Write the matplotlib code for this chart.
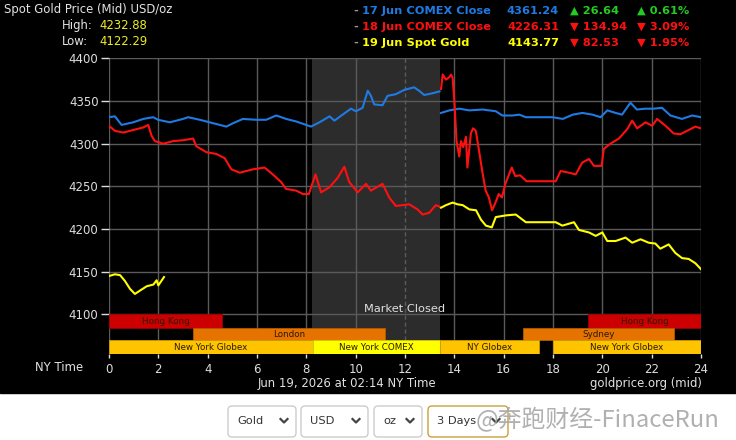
import numpy as np
import matplotlib
matplotlib.use('Agg')
import matplotlib.pyplot as plt
from matplotlib.patches import Rectangle, FancyBboxPatch

# ---- data (NY time in hours, price in USD/oz) ----
# 17 Jun COMEX close day (blue): before and after the 13:30 close
blue_am_hours = [0, 0.24, 0.51, 0.98, 1.39, 1.79, 1.99, 2.47, 3.0, 3.21, 3.68, 4.08, 4.49, 4.76, 5.03,
                 5.43, 5.97, 6.37, 6.78, 7.18, 7.59, 7.99, 8.19, 8.53, 8.94, 9.14, 9.47, 9.81, 10.01,
                 10.28, 10.49, 10.62, 10.75, 11.09, 11.29, 11.63, 11.97, 12.37, 12.57, 12.78, 13.11, 13.4]
blue_am = [4331, 4332, 4322, 4325, 4329, 4331, 4328, 4325, 4329, 4331, 4328, 4325, 4322, 4320, 4324,
           4329, 4328, 4328, 4333, 4329, 4326, 4322, 4320, 4325, 4332, 4327, 4334, 4341, 4338,
           4342, 4362, 4356, 4346, 4345, 4356, 4358, 4363, 4366, 4362, 4357, 4359, 4361.24]
blue_pm_hours = [13.46, 13.8, 14.2, 14.61, 15.15, 15.68, 15.95, 16.36, 16.63, 16.9, 17.44, 17.98, 18.4,
                 18.8, 19.19, 19.6, 19.93, 20.2, 20.54, 20.8, 21.14, 21.4, 21.75, 22.08, 22.42, 22.76,
                 23.23, 23.64, 24.0]
blue_pm = [4336, 4339, 4341, 4339, 4340, 4338, 4333, 4333, 4334, 4331, 4331, 4331, 4329,
           4334, 4336, 4334, 4331, 4339, 4336, 4334, 4348, 4340, 4341, 4341, 4342, 4333,
           4329, 4333, 4331]

# 18 Jun COMEX close day (red)
red_am_hours = [0, 0.24, 0.58, 0.98, 1.39, 1.59, 1.73, 1.86, 2.2, 2.6, 3.0, 3.41, 3.54, 3.95, 4.35,
                4.69, 4.96, 5.3, 5.84, 6.31, 6.64, 6.98, 7.18, 7.59, 7.86, 8.1, 8.37, 8.6, 8.94, 9.27,
                9.54, 9.74, 10.08, 10.42, 10.62, 11.09, 11.36, 11.63, 12.17, 12.51, 12.71, 12.98,
                13.25, 13.4]
red_am = [4321, 4315, 4313, 4316, 4319, 4322, 4309, 4303, 4300, 4303, 4304, 4306, 4297, 4290, 4288,
          4283, 4270, 4266, 4270, 4272, 4264, 4255, 4247, 4245, 4241, 4241, 4264, 4243, 4249, 4260,
          4273, 4255, 4243, 4253, 4245, 4253, 4237, 4227, 4229, 4223, 4217, 4219,
          4228, 4226.31]
red_pm_hours = [13.46, 13.53, 13.66, 13.8, 13.87, 13.93, 14.0, 14.09, 14.2, 14.27, 14.36, 14.47, 14.53,
                14.67, 14.76, 14.87, 15.0, 15.13, 15.27, 15.4, 15.53, 15.67, 15.8, 15.93, 16.07, 16.27,
                16.33, 16.47, 16.67, 16.93, 17.44, 18.11, 18.31, 18.65, 18.92, 19.19, 19.46, 19.66,
                19.97, 20.06, 20.33, 20.67, 21.01, 21.21, 21.41, 21.75, 22.02, 22.22, 22.56, 22.89,
                23.16, 23.5, 23.77, 24.0]
red_pm = [4364, 4381, 4375, 4378, 4381, 4377, 4350, 4303, 4285, 4303, 4296, 4308, 4272,
          4312, 4318, 4315, 4292, 4268, 4245, 4237, 4222, 4231, 4241, 4237, 4253, 4268,
          4272, 4262, 4263, 4256, 4256, 4256, 4268, 4266, 4264, 4278, 4282, 4274,
          4274, 4294, 4300, 4306, 4317, 4327, 4318, 4325, 4321, 4329, 4321, 4312,
          4311, 4316, 4320, 4318]

# 19 Jun spot gold (yellow)
yellow_am_hours = [0, 0.24, 0.45, 0.65, 0.85, 1.05, 1.26, 1.53, 1.8, 1.93, 2.0, 2.23]
yellow_am = [4145, 4147, 4146, 4139, 4130, 4124, 4128, 4133, 4135, 4140, 4134, 4143.77]
yellow_pm_hours = [13.46, 13.66, 13.93, 14.13, 14.34, 14.61, 14.88, 15.08, 15.28, 15.52, 15.68, 16.09,
                   16.49, 16.9, 17.44, 18.11, 18.38, 18.85, 19.05, 19.46, 19.73, 20.0, 20.2, 20.54,
                   20.94, 21.21, 21.55, 21.88, 22.15, 22.35, 22.69, 22.96, 23.23, 23.5, 23.77, 24.0]
yellow_pm = [4225, 4228, 4231, 4229, 4228, 4223, 4222, 4211, 4204, 4202, 4214, 4216,
             4217, 4208, 4208, 4208, 4204, 4208, 4199, 4196, 4192, 4196, 4186, 4186,
             4190, 4184, 4188, 4184, 4183, 4177, 4182, 4172, 4166, 4165, 4160, 4153]

# trading sessions strip
session_names = ["Hong Kong", "Hong Kong", "London", "Sydney",
                 "New York Globex", "New York COMEX", "NY Globex", "New York Globex"]
session_start = [0, 19.42, 3.4, 16.8, 0, 8.27, 13.42, 18.0]
session_end = [4.6, 24, 11.2, 22.9, 8.27, 13.42, 17.42, 24]
session_row = [0, 0, 1, 1, 2, 2, 2, 2]

closed_start, closed_end = 8.22, 13.42

legend_labels = ["17 Jun COMEX Close", "18 Jun COMEX Close", "19 Jun Spot Gold"]
legend_prices = ["4361.24", "4226.31", "4143.77"]
legend_change = ["\u25b2 26.64", "\u25bc 134.94", "\u25bc 82.53"]
legend_pct = ["\u25b2 0.61%", "\u25bc 3.09%", "\u25bc 1.95%"]
day_high, day_low = "4232.88", "4122.29"

BLUE = '#1f7be3'
RED = '#ff1010'
YELLOW = '#ffff00'
GREEN = '#22cc22'

W, H = 736, 440
fig = plt.figure(figsize=(W / 100, H / 100), dpi=100, facecolor='white')

# pixel canvas for all the surrounding bits
bg = fig.add_axes([0, 0, 1, 1])
bg.set_xlim(0, W)
bg.set_ylim(H, 0)
bg.axis('off')
bg.add_patch(Rectangle((0, 0), W, 393.5, color='black', zorder=0))

txt = '#e2e2e2'
bg.text(4, 9.5, "Spot Gold Price (Mid) USD/oz", color=txt, fontsize=8.4, va='center')
bg.text(62, 25.5, "High:", color=txt, fontsize=8.4, va='center')
bg.text(99, 25.5, day_high, color='#eeee22', fontsize=8.4, va='center')
bg.text(62, 41.5, "Low:", color=txt, fontsize=8.4, va='center')
bg.text(99, 41.5, day_low, color='#eeee22', fontsize=8.4, va='center')

row_y = [11, 26.7, 42.5]
row_col = [BLUE, RED, YELLOW]
chg_col = [GREEN, RED, RED]
for i in range(3):
    bg.text(353, row_y[i], "-", color='#999999', fontsize=8.2, fontweight='bold', va='center')
    bg.text(362, row_y[i], legend_labels[i], color=row_col[i], fontsize=8.2, fontweight='bold', va='center')
    bg.text(559, row_y[i], legend_prices[i], color=row_col[i], fontsize=8.2, fontweight='bold',
            va='center', ha='right')
    bg.text(570, row_y[i], legend_change[i], color=chg_col[i], fontsize=8.2, fontweight='bold', va='center')
    bg.text(637, row_y[i], legend_pct[i], color=chg_col[i], fontsize=8.2, fontweight='bold', va='center')

bg.text(83, 367.5, "NY Time", color=txt, fontsize=8.4, va='center', ha='right')
bg.text(347, 383.5, "Jun 19, 2026 at 02:14 NY Time", color=txt, fontsize=8.4, va='center', ha='center')
bg.text(702, 383.5, "goldprice.org (mid)", color=txt, fontsize=8.4, va='center', ha='right')

# dropdown boxes under the chart
boxes = [("Gold", 228, 296), ("USD", 301, 368), ("oz", 374, 422), ("3 Days", 428, 508)]
for name, x0, x1 in boxes:
    edge = '#c9a13b' if name == "3 Days" else '#cccccc'
    bg.add_patch(FancyBboxPatch((x0, 406), x1 - x0, 31, boxstyle="round,pad=0,rounding_size=4",
                                fc='white', ec=edge, lw=1))
    bg.text(x0 + 9, 421.5, name, color='#333333', fontsize=8.2, va='center')
    cx = x1 - 12
    bg.plot([cx - 3.5, cx, cx + 3.5], [419, 422.5, 419], color='#444444', lw=1.6)

bg.text(476, 420, "@奔跑财经-FinaceRun", color='#a8a8a8', fontsize=17.2, va='center', alpha=0.9,
        family=['Noto Sans CJK SC', 'DejaVu Sans'])

# ---- main chart ----
ax = fig.add_axes([109 / W, 1 - 353.7 / H, 592 / W, 295.4 / H])
ax.set_facecolor('black')
ax.set_xlim(0, 24)
ax.set_ylim(4054, 4400)

ax.axvspan(closed_start, closed_end, color='#2c2c2c', zorder=0.5, lw=0)

yticks = [4100, 4150, 4200, 4250, 4300, 4350, 4400]
xticks = list(range(0, 25, 2))
for y in yticks:
    ax.axhline(y, color='#5a5a5a', lw=1, zorder=1)
for x in xticks:
    ax.axvline(x, color='#5a5a5a', lw=1, zorder=1, ls=(0, (3, 2)) if x == 12 else '-')

ax.text(12.0, 4106.6, "Market Closed", color='#e0e0e0', fontsize=8.2, ha='center', va='center', zorder=2)

# session bars
row_top = [4100, 4083.6, 4069.5]
row_bot = [4083.6, 4069.5, 4054]
sess_col = {"Hong Kong": '#cc0000', "London": '#e67300', "Sydney": '#e67300',
            "New York Globex": '#ffc400', "NY Globex": '#ffc400', "New York COMEX": '#ffff00'}
sess_edge = {"Hong Kong": '#990000', "London": '#b35900', "Sydney": '#b35900',
             "New York Globex": '#cc9900', "NY Globex": '#cc9900', "New York COMEX": '#cccc00'}
for i in range(len(session_names)):
    r = session_row[i]
    nm = session_names[i]
    ax.add_patch(Rectangle((session_start[i], row_bot[r]), session_end[i] - session_start[i],
                           row_top[r] - row_bot[r], fc=sess_col[nm], ec=sess_edge[nm], lw=0.6, zorder=3))
    ax.text((session_start[i] + session_end[i]) / 2, (row_top[r] + row_bot[r]) / 2, nm,
            color='#2a1a00', fontsize=6.3, ha='center', va='center', zorder=4)

# price lines
lw = 1.5
ax.plot(blue_am_hours, blue_am, color=BLUE, lw=lw, zorder=5)
ax.plot(blue_pm_hours, blue_pm, color=BLUE, lw=lw, zorder=5)
ax.plot(red_am_hours, red_am, color=RED, lw=lw, zorder=5)
ax.plot(red_pm_hours, red_pm, color=RED, lw=lw, zorder=5)
ax.plot(yellow_am_hours, yellow_am, color=YELLOW, lw=lw, zorder=6)
ax.plot(yellow_pm_hours, yellow_pm, color=YELLOW, lw=lw, zorder=6)

ax.set_yticks(yticks)
ax.set_xticks(xticks)
ax.set_xticklabels([str(x) for x in xticks])
ax.tick_params(axis='y', colors='#dddddd', labelsize=8.5, length=6, pad=1.5, width=1)
ax.tick_params(axis='x', colors='#dddddd', labelsize=8.5, length=3, pad=3.5, width=1)
for t in ax.get_xticklines() + ax.get_yticklines():
    t.set_color('#777777')
for s in ax.spines.values():
    s.set_visible(False)

fig.savefig('out.png', dpi=100, facecolor=fig.get_facecolor())
